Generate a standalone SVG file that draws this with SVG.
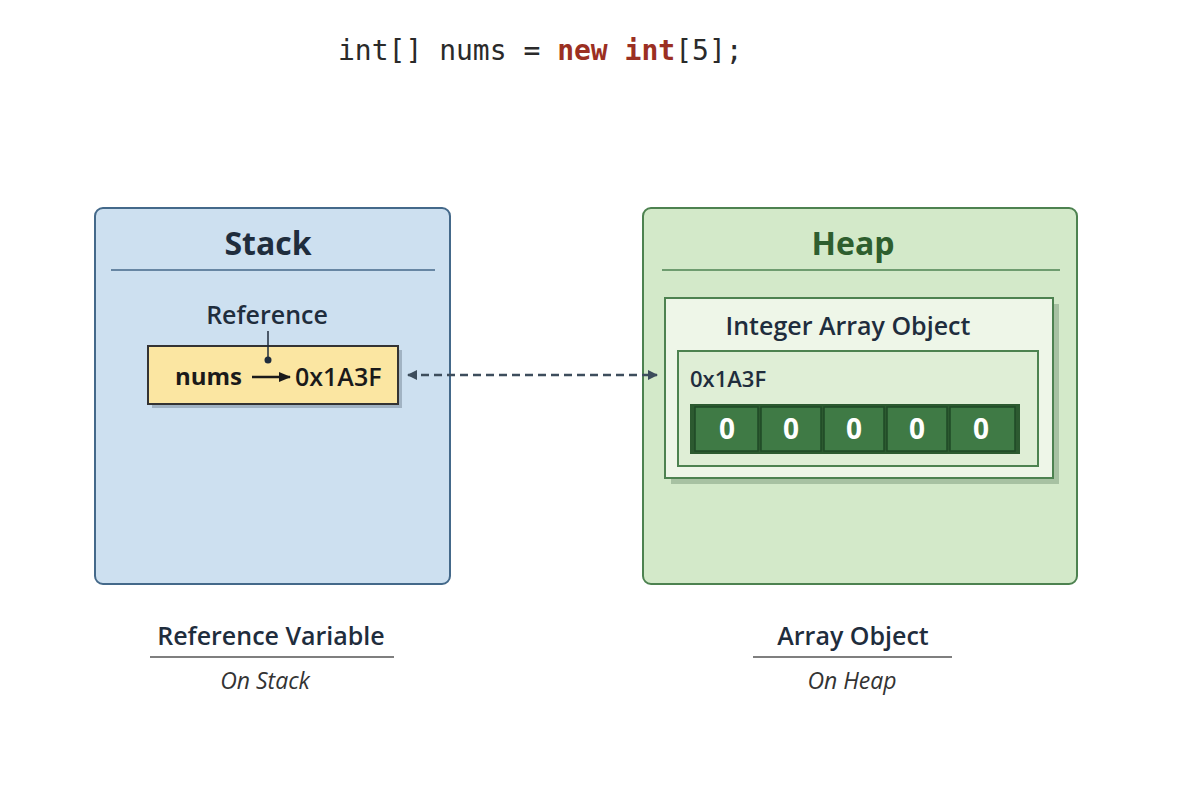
<svg xmlns="http://www.w3.org/2000/svg" width="1200" height="800" viewBox="0 0 1200 800">
<style>
.t{font-family:"Open Sans","Noto Sans",sans-serif;fill:#1f2d3d}
.m{font-weight:600}
.code{font-family:"DejaVu Sans Mono","Liberation Mono",monospace;font-size:28px;fill:#2a2a2a}
.kw{fill:#9b2f22;font-weight:bold}
.cell{fill:#3f7a45;stroke:#1f4a26;stroke-width:1.5}
.z{font-family:"Open Sans",sans-serif;font-size:28px;font-weight:bold;fill:#fff}
</style>
<defs>
<marker id="ah" markerWidth="10" markerHeight="10" refX="9" refY="5" orient="auto-start-reverse" markerUnits="userSpaceOnUse"><path d="M0,0 L10,5 L0,10 z" fill="#3d4d5c"/></marker>
<marker id="sa" markerWidth="12" markerHeight="12" refX="11" refY="6" orient="auto" markerUnits="userSpaceOnUse"><path d="M0,1 L12,6 L0,11 z" fill="#1a1a1a"/></marker>
</defs>
<rect width="1200" height="800" fill="#fff"/>
<text class="code" x="338" y="60">int[] nums = <tspan class="kw">new int</tspan>[5];</text>
<g id="stack">
<rect x="95" y="208" width="355" height="376" rx="8" fill="#cde0f0" stroke="#44698a" stroke-width="2"/>
<text class="t" x="268" y="255" text-anchor="middle" font-size="32" font-weight="bold">Stack</text>
<line x1="111" y1="270" x2="435" y2="270" stroke="#44698a" stroke-width="1.5"/>
<text class="t m" x="267" y="324" text-anchor="middle" font-size="25">Reference</text>
<rect x="150" y="348" width="250" height="58" fill="#1f2d3d" opacity="0.25" transform="translate(2,2)"/>
<rect x="148" y="346" width="250" height="58" fill="#fbe6a2" stroke="#333" stroke-width="2"/>
<line x1="268" y1="331" x2="268" y2="360" stroke="#1f2d3d" stroke-width="1.5"/>
<circle cx="268" cy="360" r="3.5" fill="#1f2d3d"/>
<text class="t" x="175" y="385" font-size="24" font-weight="bold" style="fill:#1a1a1a">nums</text>
<line x1="252" y1="377" x2="290" y2="377" stroke="#1a1a1a" stroke-width="2.5" marker-end="url(#sa)"/>
<text class="t m" x="295" y="386" font-size="25" style="fill:#1a1a1a">0x1A3F</text>
</g>
<g id="heap">
<rect x="643" y="208" width="434" height="376" rx="8" fill="#d3e9c9" stroke="#4d8250" stroke-width="2"/>
<text class="t" x="853" y="255" text-anchor="middle" font-size="32" font-weight="bold" style="fill:#2e5e2e">Heap</text>
<line x1="662" y1="270" x2="1060" y2="270" stroke="#4d8250" stroke-width="1.5"/>
<rect x="668" y="301" width="388" height="180" fill="#7c9a7c" opacity="0.5" transform="translate(3,3)"/>
<rect x="665" y="298" width="388" height="180" fill="#eef6e8" stroke="#4d8250" stroke-width="2"/>
<text class="t m" x="848" y="335" text-anchor="middle" font-size="25">Integer Array Object</text>
<rect x="678" y="351" width="360" height="115" fill="#dfeed6" stroke="#4d8250" stroke-width="2"/>
<text class="t m" x="690" y="387" font-size="22">0x1A3F</text>
<rect x="690" y="404" width="330" height="50" fill="#2c5a30"/>
<rect x="695" y="407" width="63" height="44" class="cell"/>
<rect x="761" y="407" width="60" height="44" class="cell"/>
<rect x="824" y="407" width="60" height="44" class="cell"/>
<rect x="887" y="407" width="60" height="44" class="cell"/>
<rect x="950" y="407" width="65" height="44" class="cell"/>
<text class="z" x="727" y="439" text-anchor="middle">0</text>
<text class="z" x="791" y="439" text-anchor="middle">0</text>
<text class="z" x="854" y="439" text-anchor="middle">0</text>
<text class="z" x="917" y="439" text-anchor="middle">0</text>
<text class="z" x="981" y="439" text-anchor="middle">0</text>
</g>
<g id="connectors">
<line x1="408" y1="375" x2="657" y2="375" stroke="#3d4d5c" stroke-width="2.5" stroke-dasharray="8,5" marker-start="url(#ah)" marker-end="url(#ah)"/>
</g>
<g id="captions">
<text class="t m" x="271" y="645" text-anchor="middle" font-size="25">Reference Variable</text>
<line x1="150" y1="657" x2="394" y2="657" stroke="#555" stroke-width="1.5"/>
<text class="t" x="265" y="689" text-anchor="middle" font-size="23" font-style="italic" style="fill:#333">On Stack</text>
<text class="t m" x="853" y="645" text-anchor="middle" font-size="25">Array Object</text>
<line x1="753" y1="657" x2="952" y2="657" stroke="#555" stroke-width="1.5"/>
<text class="t" x="852" y="689" text-anchor="middle" font-size="23" font-style="italic" style="fill:#333">On Heap</text>
</g>
</svg>
